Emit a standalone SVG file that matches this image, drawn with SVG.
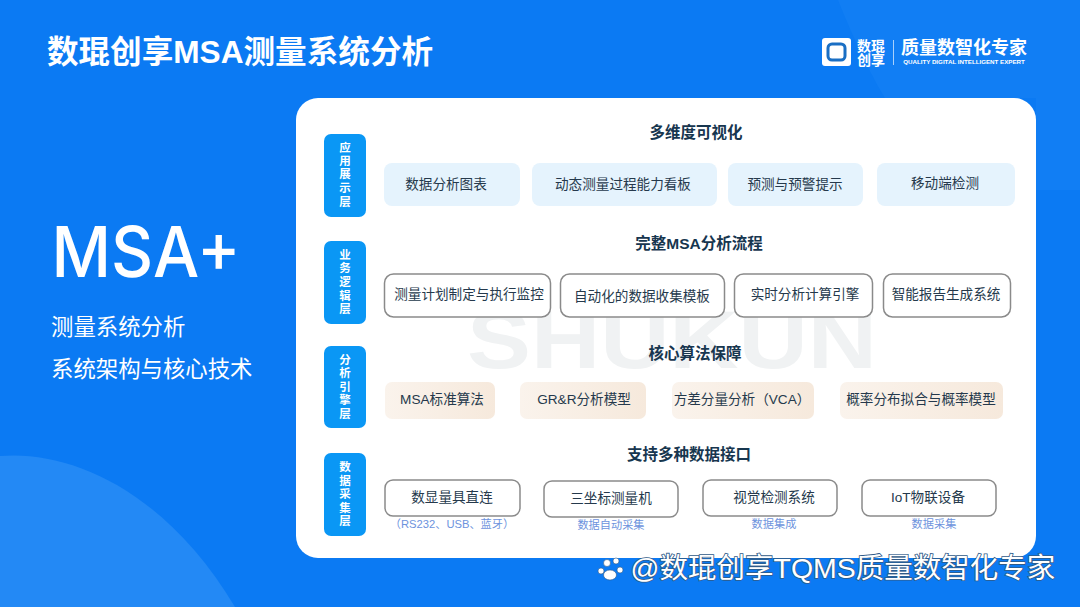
<svg xmlns="http://www.w3.org/2000/svg" width="1080" height="607" viewBox="0 0 1080 607">
<defs>
<style>
text{font-family:"Liberation Sans","Noto Sans CJK SC",sans-serif;text-anchor:middle}
.lay{fill:#0a97f5}
.layt{fill:#fff;font-size:11.500px;font-weight:700}
.head{fill:#17364f;font-size:15.500px;font-weight:700}
.item{font-size:13.600px;fill:#25394c}
.blue{fill:#e5f3fd}
.line{fill:#fff;stroke:#8a8a8a;stroke-width:1.5}
.sub{font-size:11.200px;fill:#6d93dd}
.side{font-size:22.400px;fill:#fff;text-anchor:start}
</style>
<linearGradient id="warm" x1="0" y1="0" x2="1" y2="0"><stop offset="0" stop-color="#faf3ec"/><stop offset="1" stop-color="#f6e9dc"/></linearGradient>
</defs>
<rect width="1080" height="607" fill="#0b7af3"/>
<path d="M0 456C70 450 165 490 235 607H0Z" fill="#2389f5"/>
<path d="M838 0C850 30 868 70 885 98H1036V190H1080V0Z" fill="#117ef4"/>
<text id="title" x="240" y="63" style="font-size:31.600px;font-weight:700;fill:#fff">数琨创享MSA测量系统分析</text>
<g id="logo">
<rect x="822" y="38" width="29" height="28" rx="3" fill="#fff"/>
<rect x="828" y="44" width="17" height="16" rx="4" fill="none" stroke="#1a6fc4" stroke-width="3"/>
<text x="871" y="51" style="font-size:14px;font-weight:700;fill:#fff">数琨</text>
<text x="871" y="65" style="font-size:14px;font-weight:700;fill:#fff">创享</text>
<rect x="893" y="40" width="1" height="25" fill="#a8d0fb"/>
<text x="964" y="54" style="font-size:18px;font-weight:700;fill:#fff">质量数智化专家</text>
<text x="964" y="64" style="font-size:6.200px;font-weight:700;fill:#fff">QUALITY DIGITAL INTELLIGENT EXPERT</text>
</g>
<g id="intro">
<text x="146" y="277" style="font-size:70px;font-weight:500;fill:#fff;font-family:Inter,'Liberation Sans',sans-serif" textLength="189" lengthAdjust="spacingAndGlyphs">MSA+</text>
<text class="side" x="51" y="335">测量系统分析</text>
<text class="side" x="51" y="377">系统架构与核心技术</text>
</g>
<rect id="panel" x="296" y="98" width="740" height="460" rx="22" fill="#fff"/>
<text id="watermark" x="672" y="368" style="font-size:82px;font-weight:700;fill:#f0f2f3" textLength="410" lengthAdjust="spacingAndGlyphs">SHUKUN</text>
<g id="layer-app">
<rect class="lay" x="324" y="134" width="42" height="83" rx="7"/>
<text class="layt" x="345" y="152">应</text><text class="layt" x="345" y="165">用</text><text class="layt" x="345" y="178">展</text><text class="layt" x="345" y="192">示</text><text class="layt" x="345" y="206">层</text>
<text class="head" x="696" y="138">多维度可视化</text>
<rect class="blue" x="384" y="163" width="136" height="43" rx="8"/><text class="item" x="446" y="189">数据分析图表</text>
<rect class="blue" x="532" y="163" width="185" height="43" rx="8"/><text class="item" x="623" y="189">动态测量过程能力看板</text>
<rect class="blue" x="728" y="163" width="135" height="43" rx="8"/><text class="item" x="795" y="189">预测与预警提示</text>
<rect class="blue" x="877" y="163" width="138" height="43" rx="8"/><text class="item" x="945" y="188">移动端检测</text>
</g>
<g id="layer-logic">
<rect class="lay" x="324" y="241" width="42" height="83" rx="7"/>
<text class="layt" x="345" y="259">业</text><text class="layt" x="345" y="272">务</text><text class="layt" x="345" y="286">逻</text><text class="layt" x="345" y="300">辑</text><text class="layt" x="345" y="313">层</text>
<text class="head" x="699" y="249">完整MSA分析流程</text>
<rect class="line" x="384.500" y="274" width="166" height="43" rx="9"/><text class="item" x="469" y="299">测量计划制定与执行监控</text>
<rect class="line" x="560.500" y="274" width="164" height="43" rx="9"/><text class="item" x="642" y="301">自动化的数据收集模板</text>
<rect class="line" x="734.500" y="274" width="138" height="43" rx="9"/><text class="item" x="805" y="299">实时分析计算引擎</text>
<rect class="line" x="883.500" y="274" width="127" height="43" rx="9"/><text class="item" x="946" y="299">智能报告生成系统</text>
</g>
<g id="layer-engine">
<rect class="lay" x="324" y="346" width="42" height="82" rx="7"/>
<text class="layt" x="345" y="364">分</text><text class="layt" x="345" y="377">析</text><text class="layt" x="345" y="391">引</text><text class="layt" x="345" y="404">擎</text><text class="layt" x="345" y="418">层</text>
<text class="head" x="695" y="359">核心算法保障</text>
<rect fill="url(#warm)" x="385" y="382" width="110" height="37" rx="7"/><text class="item" x="442" y="404">MSA标准算法</text>
<rect fill="url(#warm)" x="520" y="382" width="126" height="37" rx="7"/><text class="item" x="584" y="404">GR&amp;R分析模型</text>
<rect fill="url(#warm)" x="672" y="382" width="142" height="37" rx="7"/><text class="item" x="742" y="404">方差分量分析（VCA）</text>
<rect fill="url(#warm)" x="840" y="382" width="163" height="37" rx="7"/><text class="item" x="921" y="404">概率分布拟合与概率模型</text>
</g>
<g id="layer-data">
<rect class="lay" x="324" y="453" width="42" height="83" rx="7"/>
<text class="layt" x="345" y="471">数</text><text class="layt" x="345" y="485">据</text><text class="layt" x="345" y="498">采</text><text class="layt" x="345" y="512">集</text><text class="layt" x="345" y="525">层</text>
<text class="head" x="689" y="460">支持多种数据接口</text>
<rect class="line" x="385" y="480" width="135" height="36" rx="8"/><text class="item" x="452" y="502">数显量具直连</text>
<text class="sub" x="452" y="528">（RS232、USB、蓝牙）</text>
<rect class="line" x="544" y="481" width="134" height="36" rx="8"/><text class="item" x="611" y="503">三坐标测量机</text>
<text class="sub" x="611" y="529">数据自动采集</text>
<rect class="line" x="703" y="480" width="134" height="36" rx="8"/><text class="item" x="774" y="502">视觉检测系统</text>
<text class="sub" x="774" y="528">数据集成</text>
<rect class="line" x="862" y="480" width="134" height="36" rx="8"/><text class="item" x="928" y="502">IoT物联设备</text>
<text class="sub" x="934" y="528">数据采集</text>
</g>
<g id="credit">
<g fill="#fff" stroke="#2f5a88" stroke-width=".6"><circle cx="607" cy="563" r="3.500"/><circle cx="616" cy="561" r="3"/><circle cx="601" cy="571" r="3"/><circle cx="620" cy="570" r="3"/><ellipse cx="610" cy="575" rx="6.500" ry="5"/></g>
<text x="843" y="578" style="font-size:28.500px;fill:#fff;stroke:#2f5a88;stroke-width:1.600;paint-order:stroke">@数琨创享TQMS质量数智化专家</text>
</g>
</svg>
